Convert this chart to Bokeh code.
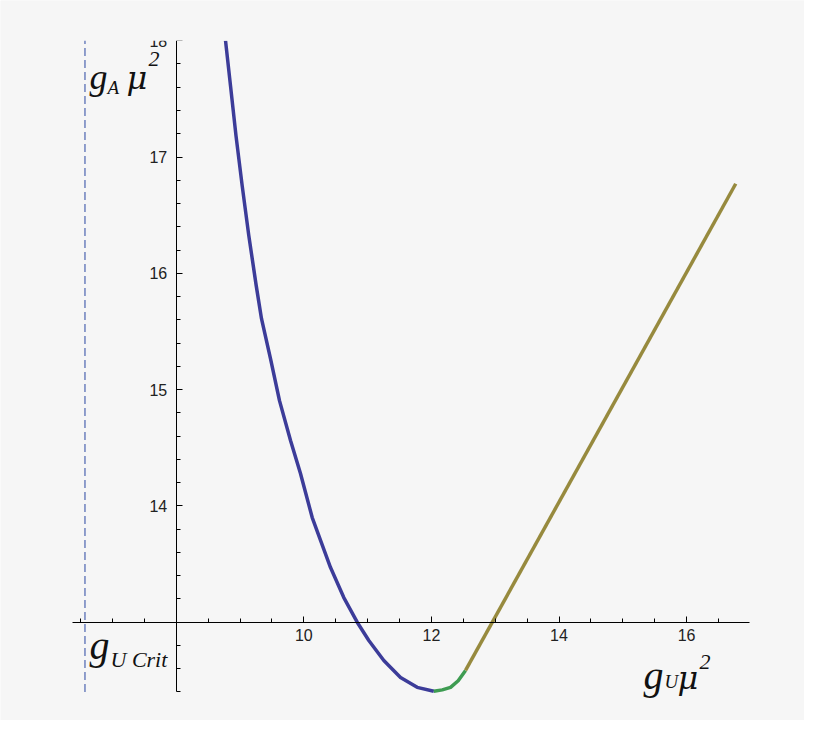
import numpy as np
from bokeh.plotting import figure
from bokeh.models import FixedTicker, BoxAnnotation, Range1d
from bokeh.core.properties import value
from bokeh.embed import file_html
from bokeh.resources import INLINE

# ---- data ----
blue_x = [8.773, 8.851, 8.937, 9.034, 9.138, 9.254, 9.337, 9.478, 9.619, 9.792, 9.948,
          10.132, 10.419, 10.627, 10.837, 11.019, 11.254, 11.516, 11.777, 12.038]
blue_y = [18.001, 17.614, 17.184, 16.754, 16.324, 15.894, 15.610, 15.266, 14.905, 14.562, 14.278,
          13.900, 13.470, 13.212, 13.000, 12.843, 12.671, 12.525, 12.440, 12.406]
green_x = [12.038, 12.17, 12.30, 12.42, 12.535]
green_y = [12.406, 12.418, 12.440, 12.497, 12.585]
olive_x = [12.535, 16.77]
olive_y = [12.585, 16.77]
g_crit = 6.57
x_major = [10, 12, 14, 16]
y_major = [14, 15, 16, 17, 18]
x_axis_bounds = (6.37, 16.98)
y_axis_bounds = (12.4, 18.0)
origin = (8, 13)

BG = "#f6f6f6"

# pixel <-> data mapping of reference
def dx(px):
    return 8 + (px - 175.7) / 63.8

def dy(py):
    return 13 + (621.7 - py) / 116.3

W, H = 804, 720
p = figure(width=W, height=H, output_backend="svg", toolbar_location=None,
           x_range=Range1d(dx(0), dx(W)), y_range=Range1d(dy(H), dy(0)),
           min_border=0, background_fill_color=BG, border_fill_color=BG,
           outline_line_color=None)
p.grid.visible = False

# axes crossing at origin
p.xaxis.fixed_location = origin[1]
p.yaxis.fixed_location = origin[0]
p.xaxis.bounds = x_axis_bounds
p.yaxis.bounds = y_axis_bounds
p.xaxis.ticker = FixedTicker(ticks=x_major, minor_ticks=list(np.arange(6.5, 17.0, 0.5)))
p.yaxis.ticker = FixedTicker(ticks=y_major, minor_ticks=list(np.round(np.arange(12.4, 18.01, 0.2), 2)))
for ax in (p.xaxis[0], p.yaxis[0]):
    ax.axis_line_color = "black"
    ax.axis_line_width = 1
    ax.major_tick_line_color = "black"
    ax.minor_tick_line_color = "black"
    ax.major_tick_in = 6
    ax.major_tick_out = 0
    ax.minor_tick_in = 4
    ax.minor_tick_out = 0
    ax.major_label_text_font = "Liberation Sans"
    ax.major_label_text_font_size = "16px"
    ax.major_label_text_color = "#222222"
p.xaxis.major_label_standoff = 7
p.yaxis.major_label_standoff = 9

# dashed critical line
p.line([g_crit, g_crit], [y_axis_bounds[0], 18.3], line_color="#7d8ec4", line_width=1.7, line_dash="8 4")

# curves
p.line(blue_x, blue_y, line_color="#3c3c99", line_width=3.5, line_join="round")
p.line(green_x, green_y, line_color="#3e9c52", line_width=3.5, line_join="round")
p.line(olive_x, olive_y, line_color="#978a3e", line_width=3.5)

# axis labels (italic serif)
def txt(px, py, s, size, font="Liberation Serif"):
    p.text([dx(px)], [dy(py)], text=[s], text_font=value(font), text_font_style="italic",
           text_font_size=size, text_baseline="alphabetic", text_align="left", text_color="#111111")

txt(89, 76, "g", "36px")
txt(107, 87, "A", "19px")
txt(126, 77, "μ", "32px", "DejaVu Serif")
txt(148, 58, "2", "22px")

txt(89, 645, "g", "40px")
txt(110, 659, "U Crit", "22px")

txt(643, 675, "g", "40px")
txt(664, 681, "U", "19px")
txt(677, 677, "μ", "32px", "DejaVu Serif")
txt(699, 661, "2", "22px")

# clip everything above the plot range top (as in the reference)
p.add_layout(BoxAnnotation(bottom=18.0, fill_color=BG, fill_alpha=1.0, line_alpha=0, level="overlay"))

open("out.html", "w").write(file_html(p, INLINE))
